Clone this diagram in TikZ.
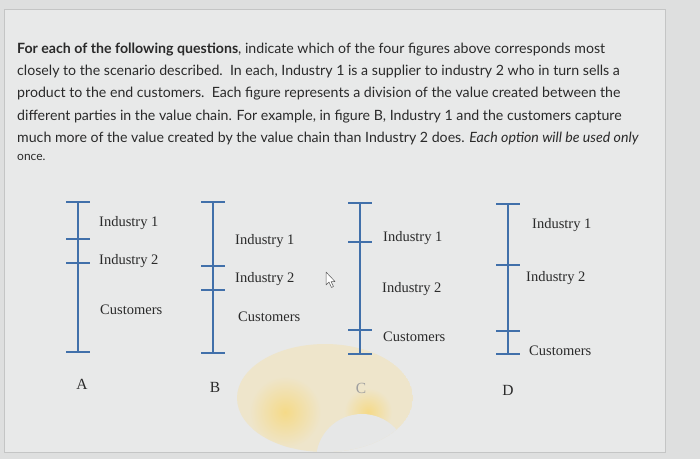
\documentclass[tikz,border=0pt]{standalone}
\usepackage{fontspec}
\setmainfont{Lato}
\newfontfamily\labfont{Liberation Serif}
\begin{document}
\begin{tikzpicture}[x=1pt,y=-1pt]
\definecolor{outerbg}{HTML}{DEDFDF}
\definecolor{panelbg}{HTML}{E8E9E9}
\definecolor{panelline}{HTML}{C4C5C5}
\definecolor{txt}{HTML}{2A2A2A}
\definecolor{whisk}{HTML}{4170AA}
\definecolor{labtxt}{HTML}{2A2A2A}
\definecolor{glarepale}{HTML}{EEE5CB}
\definecolor{glarebright}{HTML}{F5DA88}
\tikzset{
  para/.style={anchor=base west, inner sep=0pt, text=txt, font=\fontsize{14.15}{16}\selectfont},
  lab/.style={anchor=base west, inner sep=0pt, text=labtxt, font=\labfont\fontsize{14.5}{16}\selectfont},
  letter/.style={anchor=base, inner sep=0pt, text=labtxt, font=\labfont\fontsize{15.5}{17}\selectfont},
  bar/.style={draw=whisk, line width=2.5pt},
}
\useasboundingbox (0,0) rectangle (700,459);
\fill[outerbg] (0,0) rectangle (700,459);
\fill[panelbg] (4,9) rectangle (665,452);
% glare
\begin{scope}
  \clip (325,398) ellipse (88 and 54);
  \fill[glarepale] (325,398) ellipse (88 and 54);
  \shade[inner color=glarebright, outer color=glarepale] (285,412) circle (36);
  \shade[inner color=glarebright, outer color=glarepale] (368,412) circle (24);
  \fill[panelbg!99!black] (362,460) circle (46);
\end{scope}
\draw[panelline, line width=0.8pt] (4,9) rectangle (665,452);

% paragraph
\node[para] (l1) at (17,53) {\textbf{For each of the following questions}, indicate which of the four figures above corresponds most};
\node[para] (l2) at (17,75) {closely to the scenario described.\ \ In each, Industry 1 is a supplier to industry 2 who in turn sells a};
\node[para] (l3) at (17,97) {product to the end customers.\ \ Each figure represents a division of the value created between the};
\node[para] (l4) at (17,120) {different parties in the value chain. For example, in figure B, Industry 1 and the customers capture};
\node[para] (l5) at (17,142) {much more of the value created by the value chain than Industry 2 does. \textit{Each option will be used only}};
\node[para, font=\fontsize{12}{14}\selectfont] (l6) at (17,160) {once.};

% whiskers: name / x / top / tick1 / tick2 / bottom
\foreach \n/\x/\t/\a/\b/\e in {A/78/202/239/263/352, B/213/202/266/290/353, C/360/203/242/330/354, D/508/204/265/331/354}{
  \coordinate (\n-top) at (\x,\t);
  \coordinate (\n-ta) at (\x,\a);
  \coordinate (\n-tb) at (\x,\b);
  \coordinate (\n-bot) at (\x,\e);
  \draw[bar] (\n-top) -- (\n-bot);
  \foreach \p in {top,ta,tb,bot}{
    \draw[bar] ([xshift=-12pt]\n-\p) -- ([xshift=12pt]\n-\p);
  }
}

% labels
\node[lab] (Ai1) at (99,226) {Industry 1};
\node[lab] (Ai2) at (99,264) {Industry 2};
\node[lab] (Acu) at (100,314) {Customers};
\node[lab] (Bi1) at (235,244) {Industry 1};
\node[lab] (Bi2) at (235,282) {Industry 2};
\node[lab] (Bcu) at (238,321) {Customers};
\node[lab] (Ci1) at (383,241) {Industry 1};
\node[lab] (Ci2) at (382,292) {Industry 2};
\node[lab] (Ccu) at (383,341) {Customers};
\node[lab] (Di1) at (532,228) {Industry 1};
\node[lab] (Di2) at (526,281) {Industry 2};
\node[lab] (Dcu) at (529,355) {Customers};

\node[letter] (LA) at (82,389) {A};
\node[letter] (LB) at (215,392) {B};
\node[letter, text=labtxt!45] (LC) at (361,393) {C};
\node[letter] (LD) at (508,395) {D};

% cursor
\draw[fill=white, draw=gray!70!black, line width=0.5pt, line join=round]
  (326,272) -- (326,285) -- (329,282) -- (331.5,287.5) -- (333.5,286.5) -- (331,281.5) -- (335,281.5) -- cycle;
\end{tikzpicture}
\end{document}
